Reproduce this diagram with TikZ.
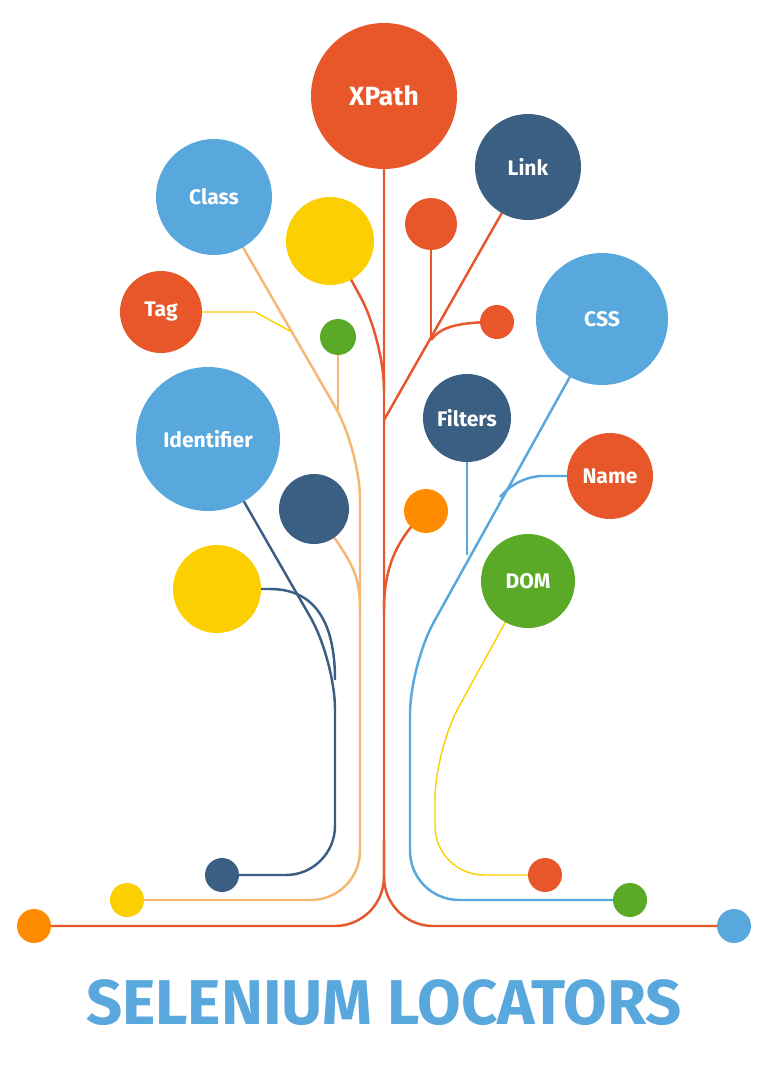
\documentclass[tikz,border=0pt]{standalone}
\usepackage{fontspec}
\setmainfont{Fira Sans}
\usetikzlibrary{backgrounds}
\definecolor{tred}{HTML}{E8572A}
\definecolor{tdark}{HTML}{3A5F83}
\definecolor{tblue}{HTML}{58A8DD}
\definecolor{tyellow}{HTML}{FBCF00}
\definecolor{tgreen}{HTML}{5AAA28}
\definecolor{torange}{HTML}{FF8C00}
\definecolor{tpeach}{HTML}{F4B872}
\tikzset{ball/.style={circle,inner sep=0pt,text=white,font=\bfseries\fontsize{12}{12}\selectfont}}
\tikzset{branch/.style={line width=1.4pt,rounded corners=28pt}}
\begin{document}
\begin{tikzpicture}[x=0.02cm,y=-0.02cm]
	\useasboundingbox (0,0) rectangle (768,1066);

	% circles
	\node[ball,fill=tred,minimum size=146*0.02cm,font=\bfseries\fontsize{15}{15}\selectfont] (xpath) at (384,96) {XPath};
	\node[ball,fill=tdark,minimum size=106*0.02cm] (link) at (528,167) {Link};
	\node[ball,fill=tblue,minimum size=116*0.02cm] (class) at (214,197) {Class};
	\node[ball,fill=tyellow,minimum size=88*0.02cm] (yA) at (330,241) {};
	\node[ball,fill=tred,minimum size=52*0.02cm] (rA) at (431,224) {};
	\node[ball,fill=tred,minimum size=82*0.02cm] (tag) at (161,312) {Tag};
	\node[ball,fill=tgreen,minimum size=36*0.02cm] (gA) at (338,337) {};
	\node[ball,fill=tred,minimum size=34*0.02cm] (rB) at (497,322) {};
	\node[ball,fill=tblue,minimum size=132*0.02cm] (css) at (602,319) {CSS};
	\node[ball,fill=tblue,minimum size=144*0.02cm] (ident) at (208,439) {Identifier};
	\node[ball,fill=tdark,minimum size=88*0.02cm] (filters) at (467,418) {Filters};
	\node[ball,fill=tred,minimum size=86*0.02cm] (name) at (610,476) {Name};
	\node[ball,fill=tdark,minimum size=70*0.02cm] (dA) at (314,509) {};
	\node[ball,fill=torange,minimum size=44*0.02cm] (oA) at (426,511) {};
	\node[ball,fill=tgreen,minimum size=94*0.02cm] (dom) at (528,581) {DOM};
	\node[ball,fill=tyellow,minimum size=88*0.02cm] (yB) at (217,589) {};
	\node[ball,fill=tdark,minimum size=34*0.02cm] (dB) at (222,875) {};
	\node[ball,fill=tyellow,minimum size=34*0.02cm] (yC) at (127,900) {};
	\node[ball,fill=torange,minimum size=34*0.02cm] (oB) at (34,926) {};
	\node[ball,fill=tred,minimum size=34*0.02cm] (rC) at (545,875) {};
	\node[ball,fill=tgreen,minimum size=34*0.02cm] (gB) at (630,900) {};
	\node[ball,fill=tblue,minimum size=34*0.02cm] (bB) at (734,926) {};

	% branches
	\begin{scope}[on background layer]
	\draw[branch,tred] (xpath.center) -- (384,926) -- (oB.center);
	\draw[branch,tred] (384,840) -- (384,926) -- (bB.center);
	\draw[branch,tred] (yA.center) -- (384,340) -- (384,380);
	\draw[tred,line width=1.4pt] (link.center) -- (384,420);
	\draw[tred,line width=1.4pt] (rA.center) -- (431,340);
	\draw[tred,line width=1.4pt] (rB.center) .. controls (455,322) and (440,328) .. (431,340);
	\draw[tred,line width=1.4pt] (oA.center) .. controls (395,540) and (384,570) .. (384,610);
	\draw[branch,tpeach] (class.center) -- (360,450) -- (360,900) -- (yC.center);
	\draw[tpeach,line width=1.4pt] (gA.center) -- (338,410);
	\draw[tpeach,line width=1.4pt] (dA.center) .. controls (350,560) and (360,570) .. (360,610);
	\draw[tyellow,line width=0.8pt] (tag.center) -- (255,312) -- (292,332);
	\draw[branch,tdark] (ident.center) -- (335,660) -- (335,875) -- (dB.center);
	\draw[tdark,line width=1.4pt] (yB.center) -- (270,589) .. controls (320,589) and (335,630) .. (335,680);
	\draw[branch,tblue] (css.center) -- (410,665) -- (410,900) -- (gB.center);
	\draw[tblue,line width=1.4pt] (name.center) -- (540,476) .. controls (520,478) and (508,488) .. (500,497);
	\draw[tblue,line width=1.4pt] (filters.center) -- (467,555);
	\draw[branch,tyellow,line width=0.8pt] (dom.center) -- (435,750) -- (435,875) -- (rC.center);
	\end{scope}

	\node[text=tblue,font=\bfseries\fontsize{36}{36}\selectfont] (title) at (384,1003) {SELENIUM LOCATORS};
\end{tikzpicture}
\end{document}
